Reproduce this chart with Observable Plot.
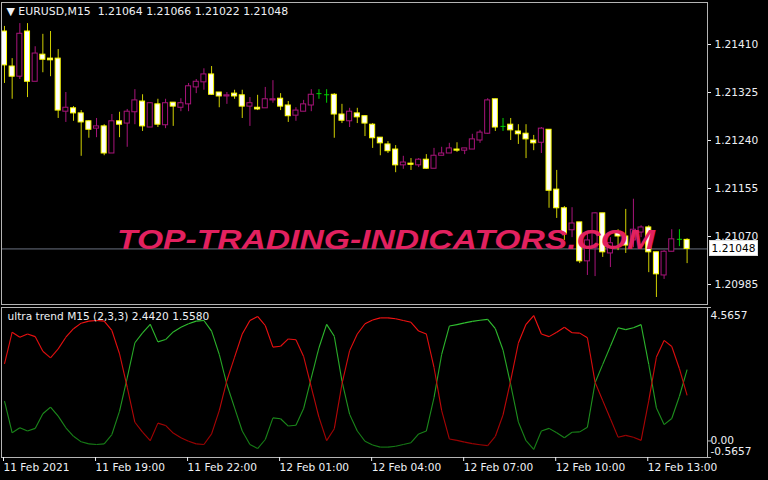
<!DOCTYPE html>
<html><head><meta charset="utf-8">
<script src="https://cdn.jsdelivr.net/npm/d3@7"></script>
<script src="https://cdn.jsdelivr.net/npm/@observablehq/plot@0.6"></script>
<style>
html,body{margin:0;padding:0;background:#000;}
#wrap{position:relative;width:768px;height:480px;overflow:hidden;background:#000;font-family:"DejaVu Sans",sans-serif;}
#wrap > svg{position:absolute;left:0;}
#pbox{position:absolute;left:709px;width:47px;height:14px;background:#fff;color:#000;font:10.6px "DejaVu Sans",sans-serif;line-height:14px;text-align:center;border:1px solid #ddd;}
</style></head><body><div id="wrap"></div>
<script>
const symbol = "EURUSD,M15";
const openP = [1.21433,1.21371,1.21353,1.21433,1.21344,1.21392,1.21385,1.21385,1.21291,1.21297,
1.21288,1.21274,1.21261,1.21265,1.21217,1.21274,1.21270,1.21290,1.21309,1.21263,
1.21304,1.21267,1.21307,1.21298,1.21304,1.21334,1.21343,1.21357,1.21325,1.21318,
1.21323,1.21320,1.21300,1.21298,1.21297,1.21311,1.21314,1.21302,1.21284,1.21291,
1.21302,1.21323,1.21321,1.21321,1.21286,1.21274,1.21288,1.21283,1.21268,1.21245,
1.21233,1.21224,1.21196,1.21199,1.21196,1.21206,1.21190,1.21213,1.21217,1.21224,
1.21222,1.21224,1.21240,1.21252,1.21313,1.21265,1.21268,1.21256,1.21252,1.21240,
1.21236,1.21259,1.21153,1.21120,1.21081,1.21095,1.21026,1.21050,1.21111,1.21040,
1.21077,1.21070,1.21063,1.21077,1.21086,1.21042,1.21001,1.21043,1.21065,1.21064];
const highP = [1.21442,1.21385,1.21447,1.21447,1.21406,1.21428,1.21433,1.21401,1.21325,1.21300,
1.21293,1.21275,1.21279,1.21268,1.21286,1.21290,1.21295,1.21330,1.21321,1.21307,
1.21313,1.21313,1.21307,1.21314,1.21341,1.21348,1.21367,1.21371,1.21325,1.21325,
1.21329,1.21329,1.21316,1.21320,1.21334,1.21346,1.21323,1.21309,1.21298,1.21311,
1.21330,1.21330,1.21330,1.21323,1.21304,1.21297,1.21297,1.21284,1.21270,1.21245,
1.21238,1.21231,1.21212,1.21208,1.21208,1.21215,1.21226,1.21228,1.21235,1.21236,
1.21226,1.21251,1.21258,1.21314,1.21313,1.21279,1.21279,1.21268,1.21268,1.21249,
1.21263,1.21259,1.21187,1.21123,1.21121,1.21095,1.21077,1.21112,1.21111,1.21068,
1.21082,1.21118,1.21136,1.21089,1.21089,1.21042,1.21045,1.21082,1.21082,1.21066];
const lowP = [1.21341,1.21313,1.21348,1.21316,1.21344,1.21360,1.21353,1.21279,1.21272,1.21274,
1.21212,1.21244,1.21245,1.21213,1.21217,1.21245,1.21228,1.21268,1.21256,1.21263,
1.21263,1.21261,1.21265,1.21291,1.21291,1.21323,1.21329,1.21320,1.21298,1.21304,
1.21313,1.21279,1.21265,1.21293,1.21297,1.21306,1.21293,1.21272,1.21274,1.21291,
1.21291,1.21313,1.21306,1.21244,1.21270,1.21263,1.21270,1.21247,1.21226,1.21213,
1.21217,1.21183,1.21189,1.21187,1.21192,1.21189,1.21190,1.21213,1.21217,1.21219,
1.21215,1.21224,1.21235,1.21251,1.21256,1.21256,1.21240,1.21233,1.21208,1.21222,
1.21217,1.21120,1.21102,1.21063,1.21068,1.21022,1.21001,1.20999,1.21033,1.21015,
1.21045,1.21040,1.21050,1.21068,1.21006,1.20962,1.20994,1.21043,1.21052,1.21022];
const closeP = [1.21373,1.21353,1.21429,1.21344,1.21394,1.21383,1.21382,1.21293,1.21298,1.21288,
1.21272,1.21259,1.21265,1.21217,1.21274,1.21268,1.21291,1.21311,1.21265,1.21306,
1.21268,1.21306,1.21300,1.21306,1.21336,1.21344,1.21357,1.21321,1.21318,1.21320,
1.21318,1.21300,1.21306,1.21295,1.21313,1.21313,1.21300,1.21283,1.21293,1.21304,
1.21321,1.21323,1.21321,1.21286,1.21275,1.21291,1.21281,1.21270,1.21244,1.21235,
1.21221,1.21196,1.21201,1.21197,1.21206,1.21190,1.21213,1.21217,1.21226,1.21222,
1.21226,1.21242,1.21254,1.21311,1.21263,1.21265,1.21258,1.21251,1.21242,1.21235,
1.21261,1.21151,1.21120,1.21075,1.21093,1.21026,1.21063,1.21111,1.21042,1.21058,
1.21070,1.21054,1.21082,1.21086,1.21042,1.21003,1.21043,1.21065,1.21065,1.21048];
const priceTicks = [1.20985, 1.21070, 1.21155, 1.21240, 1.21325, 1.21410];
const timeTickIndex = [0, 12, 24, 36, 48, 60, 72, 84];
const timeTickLabels = ["11 Feb 2021","11 Feb 19:00","11 Feb 22:00","12 Feb 01:00","12 Feb 04:00","12 Feb 07:00","12 Feb 10:00","12 Feb 13:00"];
const indName = "ultra trend M15 (2,3,3)";
const indRange = [-0.5657, 4.5657];
const trendRed = [2.64,3.72,3.55,3.66,3.57,3.07,2.84,3.15,3.55,3.84,
4.03,4.10,4.12,4.10,3.78,2.98,1.84,0.64,0.30,0.01,
0.61,0.53,0.27,0.11,-0.01,-0.10,-0.12,0.24,1.04,2.07,
2.87,3.66,4.12,4.26,3.95,3.21,3.24,3.49,3.46,2.89,
1.84,0.81,0.01,0.42,1.95,3.09,3.66,4.01,4.14,4.21,
4.21,4.18,4.12,4.06,3.76,3.66,2.52,1.04,0.07,0.02,
-0.04,-0.09,-0.13,-0.16,0.16,0.89,2.07,3.35,3.99,4.29,
3.66,3.57,3.72,3.89,3.70,3.69,3.53,2.01,1.38,0.76,
0.13,0.19,0.13,0.02,1.38,2.87,3.44,3.23,2.47,1.558];
const trendGreen = [1.36,0.28,0.45,0.34,0.43,0.93,1.16,0.85,0.45,0.16,
-0.03,-0.10,-0.12,-0.10,0.22,1.02,2.16,3.36,3.70,3.99,
3.39,3.47,3.73,3.89,4.01,4.10,4.12,3.76,2.96,1.93,
1.13,0.34,-0.12,-0.26,0.05,0.79,0.76,0.51,0.54,1.11,
2.16,3.19,3.99,3.58,2.05,0.91,0.34,-0.01,-0.14,-0.21,
-0.21,-0.18,-0.12,-0.06,0.24,0.34,1.48,2.96,3.93,3.98,
4.04,4.09,4.13,4.16,3.84,3.11,1.93,0.65,0.01,-0.29,
0.34,0.43,0.28,0.11,0.30,0.31,0.47,1.99,2.62,3.24,
3.87,3.81,3.87,3.98,2.62,1.13,0.56,0.77,1.53,2.442];
const watermark = "TOP-TRADING-INDICATORS.COM";

// ---------- build ----------
const n = openP.length;
const candles = d3.range(n).map(i => ({i, o: openP[i], h: highP[i], l: lowP[i], c: closeP[i]}));
const kind = d => d.c > d.o ? "up" : d.c < d.o ? "down" : "doji";
const MAG = "#a8147a", YEL = "#ffff00", WICKY = "#d0d000", DOJI = "#00d000";
const TXT = "#eef0f4", BORDER = "#b4b4b4";
const HW = 0.33;
const last = candles[n - 1];
const fmt5 = d => d.toFixed(5);
const blank = () => "";
const xOpt = {type: "linear", domain: [0, n - 1], range: [4, 686.6]};
const style = {background: "#000", color: TXT, fontFamily: "'DejaVu Sans', sans-serif", fontSize: "10.6px", overflow: "visible"};

const wrap = document.getElementById("wrap");

const main = Plot.plot({
  width: 768, height: 305,
  marginLeft: 1, marginRight: 61, marginTop: 2, marginBottom: 1,
  style,
  color: {type: "identity"},
  x: {...xOpt, axis: null},
  y: {type: "linear", domain: [priceTicks[0], priceTicks[priceTicks.length - 1]], range: [284, 44]},
  marks: [
    Plot.ruleY([last.c], {stroke: "#6a7280"}),
    Plot.ruleX(candles, {x: "i", y1: "l", y2: "h",
      stroke: d => ({up: MAG, down: WICKY, doji: DOJI})[kind(d)]}),
    Plot.rect(candles.filter(d => kind(d) !== "doji"), {
      x1: d => d.i - HW, x2: d => d.i + HW, y1: "o", y2: "c",
      fill: d => kind(d) === "down" ? "#ffffff" : "#000000",
      stroke: d => kind(d) === "down" ? YEL : MAG, strokeWidth: 1}),
    Plot.link(candles.filter(d => kind(d) === "doji"), {
      x1: d => d.i - HW, x2: d => d.i + HW, y1: "o", y2: "o", stroke: DOJI}),
    Plot.frame({stroke: BORDER}),
    Plot.axisY(priceTicks, {anchor: "right", tickSize: 3, tickPadding: 4, tickFormat: fmt5, color: TXT, label: null}),
    Plot.text([`▼ ${symbol}  ${fmt5(last.o)} ${fmt5(last.h)} ${fmt5(last.l)} ${fmt5(last.c)}`], {
      frameAnchor: "top-left", dx: 5, dy: 5, textAnchor: "start", lineAnchor: "top", fill: TXT, fontSize: 10.9})
  ]
});
main.style.top = "0px";
wrap.appendChild(main);

// current price box
const yPx = main.scale("y").apply(last.c);
const box = document.createElement("div");
box.id = "pbox";
box.textContent = fmt5(last.c);
box.style.top = (yPx - 8) + "px";
wrap.appendChild(box);

// indicator
const seg = (arr) => d3.range(arr.length - 1).map(i => ({i, j: i + 1, a: arr[i], b: arr[i + 1]}));
const tNorm = v => Math.max(0, Math.min(1, (v - indRange[0]) / (indRange[1] - indRange[0])));
const redCol = d3.interpolateRgb("#8e0000", "#ff1414");
const grnCol = d3.interpolateRgb("#137413", "#34c834");

const ind = Plot.plot({
  width: 768, height: 175,
  marginLeft: 1, marginRight: 61, marginTop: 2, marginBottom: 23,
  style,
  color: {type: "identity"},
  x: xOpt,
  y: {type: "linear", domain: indRange, range: [152, 2]},
  marks: [
    Plot.link(seg(trendGreen), {x1: "i", x2: "j", y1: "a", y2: "b",
      stroke: d => grnCol(tNorm((d.a + d.b) / 2)), strokeWidth: 1.1}),
    Plot.link(seg(trendRed), {x1: "i", x2: "j", y1: "a", y2: "b",
      stroke: d => redCol(tNorm((d.a + d.b) / 2)), strokeWidth: 1.1}),
    Plot.frame({stroke: BORDER}),
    Plot.axisX(timeTickIndex, {anchor: "bottom", tickSize: 4, tickPadding: 2, textAnchor: "start", dx: -1,
      tickFormat: d => timeTickLabels[timeTickIndex.indexOf(d)], color: TXT, label: null}),
    Plot.axisY([indRange[1], 0, indRange[0]], {anchor: "right", tickSize: 3, tickFormat: blank, color: BORDER, label: null}),
    Plot.axisY([indRange[1]], {anchor: "right", tickSize: 0, tickPadding: 3, dy: 8, tickFormat: d => d.toFixed(4), color: TXT, label: null}),
    Plot.axisY([0], {anchor: "right", tickSize: 0, tickPadding: 3, tickFormat: d => d.toFixed(2), color: TXT, label: null}),
    Plot.axisY([indRange[0]], {anchor: "right", tickSize: 0, tickPadding: 3, dy: -6, tickFormat: d => d.toFixed(4), color: TXT, label: null}),
    Plot.text([`${indName} ${trendGreen[n - 1].toFixed(4)} ${trendRed[n - 1].toFixed(4)}`], {
      frameAnchor: "top-left", dx: 6, dy: 5, textAnchor: "start", lineAnchor: "top", fill: TXT})
  ]
});
ind.style.top = "305px";
wrap.appendChild(ind);

// watermark overlay
const ns = "http://www.w3.org/2000/svg";
const wm = document.createElementNS(ns, "svg");
wm.setAttribute("width", 768); wm.setAttribute("height", 305);
wm.style.position = "absolute"; wm.style.left = "0px"; wm.style.top = "0px";
const t = document.createElementNS(ns, "text");
t.setAttribute("x", 117); t.setAttribute("y", 249);
t.setAttribute("textLength", 538); t.setAttribute("lengthAdjust", "spacingAndGlyphs");
t.setAttribute("fill", "#e2215f");
t.setAttribute("font-family", "'Liberation Sans', Arial, sans-serif");
t.setAttribute("font-weight", "bold"); t.setAttribute("font-style", "italic");
t.setAttribute("font-size", "28.5");
t.textContent = watermark;
wm.appendChild(t);
wrap.appendChild(wm);
</script>
</body></html>
